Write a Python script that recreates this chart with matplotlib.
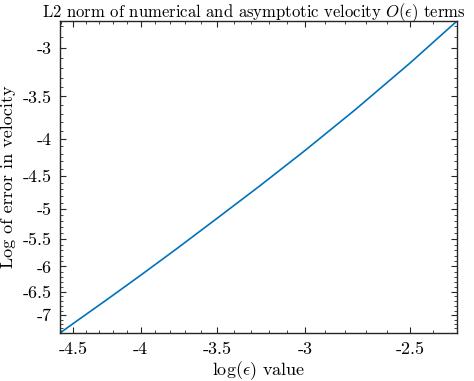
import numpy as np
import matplotlib
matplotlib.use("Agg")
import matplotlib.pyplot as plt
from matplotlib.ticker import FixedLocator, FuncFormatter

# data: log(eps) vs log(error)
log_eps = [-4.6052, -4.5, -4.25, -4.0, -3.75, -3.5, -3.25, -3.0, -2.75, -2.5, -2.3026]
log_err = [-7.41, -7.19, -6.68, -6.17, -5.66, -5.15, -4.65, -4.15, -3.65, -3.15, -2.756]

x_major = [-4.5, -4.0, -3.5, -3.0, -2.5]
y_major = [-7.0, -6.5, -6.0, -5.5, -5.0, -4.5, -4.0, -3.5, -3.0]

title = r"L2 norm of numerical and asymptotic velocity $O(\epsilon)$ terms"
xlabel = r"log($\epsilon$) value"
ylabel = "Log of error in velocity"

plt.rcParams['font.family'] = ['serif']
plt.rcParams['font.serif'] = ['cmr10', 'DejaVu Serif']
plt.rcParams['mathtext.fontset'] = 'cm'
plt.rcParams['axes.unicode_minus'] = False
plt.rcParams['axes.formatter.use_mathtext'] = True

def fwd(v):
    v = np.asarray(v, dtype=float)
    return -np.log10(np.clip(-v, 1e-300, None))

def inv(t):
    return -10.0 ** (-np.asarray(t, dtype=float))

fig = plt.figure(figsize=(4.74, 3.81), dpi=100)
ax = fig.add_axes([60/474, 1-333/381, (457-60)/474, (333-21)/381])
ax.set_xscale('function', functions=(fwd, inv))
ax.set_yscale('function', functions=(fwd, inv))

ax.plot(log_eps, log_err, color='#0072BD', lw=1.2)

ax.set_xlim(log_eps[0], log_eps[-1])
ax.set_ylim(log_err[0], log_err[-1])

x_minor = [round(v, 1) for v in np.arange(-4.6, -2.29, 0.1)]
y_minor = [round(v, 1) for v in np.arange(-7.4, -2.79, 0.1)]
ax.xaxis.set_major_locator(FixedLocator(x_major))
ax.yaxis.set_major_locator(FixedLocator(y_major))
ax.xaxis.set_minor_locator(FixedLocator(x_minor))
ax.yaxis.set_minor_locator(FixedLocator(y_minor))
fmt = FuncFormatter(lambda v, p: ('%g' % v))
ax.xaxis.set_major_formatter(fmt)
ax.yaxis.set_major_formatter(fmt)
ax.xaxis.set_minor_formatter(FuncFormatter(lambda v, p: ''))
ax.yaxis.set_minor_formatter(FuncFormatter(lambda v, p: ''))

axcol = '#262626'
for s in ax.spines.values():
    s.set_color(axcol)
    s.set_linewidth(1.0)
ax.tick_params(which='both', direction='in', top=True, right=True, colors=axcol,
               labelcolor='black', labelsize=13)
ax.tick_params(which='major', length=4.5, width=0.8, pad=6)
ax.tick_params(which='minor', length=2.2, width=0.6)

fig.text(254/474, 1-1.5/381, title, fontsize=12, ha='center', va='top')
ax.set_xlabel(xlabel, fontsize=13, labelpad=2)
ax.set_ylabel(ylabel, fontsize=13, labelpad=5)

fig.savefig("out.png", dpi=100)
